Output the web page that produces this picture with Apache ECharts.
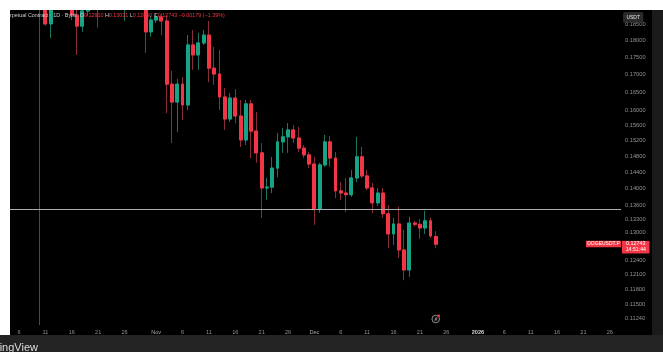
<!DOCTYPE html>
<html>
<head>
<meta charset="utf-8">
<script src="https://cdn.jsdelivr.net/npm/echarts@6.0.0/dist/echarts.min.js"></script>
<style>
html,body{margin:0;padding:0;background:#fff;overflow:hidden;}
#chart{width:663px;height:361px;}
</style>
</head>
<body>
<div id="chart"></div>
<script>
// ---- data (daily candles, DOGEUSDT.P, Bybit) ----
const dates = [
 '2025-10-10','2025-10-11','2025-10-12','2025-10-13','2025-10-14','2025-10-15','2025-10-16','2025-10-17','2025-10-18','2025-10-19',
 '2025-10-20','2025-10-21','2025-10-22','2025-10-23','2025-10-24','2025-10-25','2025-10-26','2025-10-27','2025-10-28','2025-10-29',
 '2025-10-30','2025-10-31','2025-11-01','2025-11-02','2025-11-03','2025-11-04','2025-11-05','2025-11-06','2025-11-07','2025-11-08',
 '2025-11-09','2025-11-10','2025-11-11','2025-11-12','2025-11-13','2025-11-14','2025-11-15','2025-11-16','2025-11-17','2025-11-18',
 '2025-11-19','2025-11-20','2025-11-21','2025-11-22','2025-11-23','2025-11-24','2025-11-25','2025-11-26','2025-11-27','2025-11-28',
 '2025-11-29','2025-11-30','2025-12-01','2025-12-02','2025-12-03','2025-12-04','2025-12-05','2025-12-06','2025-12-07','2025-12-08',
 '2025-12-09','2025-12-10','2025-12-11','2025-12-12','2025-12-13','2025-12-14','2025-12-15','2025-12-16','2025-12-17','2025-12-18',
 '2025-12-19','2025-12-20','2025-12-21','2025-12-22','2025-12-23','2025-12-24'
];
const openP = [
 0.2497,0.1960,0.1852,0.2070,0.2140,0.2080,0.2000,0.1880,0.1845,0.1893,
 0.1950,0.1990,0.1950,0.1925,0.1975,0.1990,0.1985,0.2000,0.2020,0.1940,
 0.1925,0.1827,0.1864,0.1874,0.1861,0.1672,0.1622,0.1672,0.1614,0.1787,
 0.1757,0.1793,0.1817,0.1718,0.1701,0.1636,0.1576,0.1633,0.1584,0.1521,
 0.1617,0.1544,0.1488,0.1402,0.1404,0.1450,0.1516,0.1529,0.1547,0.1526,
 0.1500,0.1483,0.1460,0.1353,0.1458,0.1516,0.1475,0.1395,0.1390,0.1386,
 0.1426,0.1478,0.1431,0.1402,0.1367,0.1390,0.1342,0.1297,0.1319,0.1262,
 0.1220,0.1321,0.1318,0.1310,0.1326,0.12910
];
const highP = [
 0.2530,0.1990,0.2110,0.2180,0.2170,0.2130,0.2040,0.1930,0.1930,0.1990,
 0.2030,0.2060,0.1980,0.2000,0.2040,0.2020,0.2030,0.2090,0.2060,0.1990,
 0.1960,0.1878,0.1886,0.1885,0.1880,0.1710,0.1687,0.1692,0.1817,0.1833,
 0.1824,0.1833,0.1861,0.1781,0.1772,0.1661,0.1647,0.1658,0.1628,0.1628,
 0.1628,0.1595,0.1513,0.1426,0.1478,0.1539,0.1552,0.1565,0.1560,0.1555,
 0.1508,0.1490,0.1478,0.1463,0.1534,0.1531,0.1490,0.1416,0.1426,0.1446,
 0.1529,0.1503,0.1446,0.1414,0.1402,0.1402,0.1362,0.1333,0.1358,0.1306,
 0.1335,0.1326,0.1330,0.1349,0.1333,0.13031
];
const lowP = [
 0.0950,0.1846,0.1808,0.2010,0.1960,0.1970,0.1864,0.1757,0.1827,0.1877,
 0.1920,0.1840,0.1905,0.1910,0.1945,0.1960,0.1862,0.1970,0.1920,0.1910,
 0.1763,0.1812,0.1855,0.1817,0.1592,0.1513,0.1542,0.1573,0.1600,0.1713,
 0.1713,0.1787,0.1678,0.1670,0.1600,0.1547,0.1568,0.1565,0.1503,0.1508,
 0.1475,0.1463,0.1333,0.1374,0.1390,0.1428,0.1488,0.1488,0.1513,0.1490,
 0.1475,0.1450,0.1317,0.1344,0.1453,0.1453,0.1378,0.1374,0.1346,0.1381,
 0.1416,0.1426,0.1397,0.1344,0.1360,0.1333,0.1266,0.1273,0.1245,0.1199,
 0.1206,0.1313,0.1286,0.1297,0.1288,0.12660
];
const closeP = [
 0.1960,0.1852,0.2070,0.2140,0.2080,0.2000,0.1880,0.1845,0.1893,0.1950,
 0.1990,0.1950,0.1925,0.1975,0.1990,0.1985,0.2000,0.2020,0.1940,0.1925,
 0.1827,0.1864,0.1874,0.1861,0.1672,0.1622,0.1672,0.1614,0.1787,0.1757,
 0.1793,0.1817,0.1718,0.1701,0.1636,0.1576,0.1633,0.1584,0.1521,0.1617,
 0.1544,0.1488,0.1402,0.1404,0.1450,0.1516,0.1529,0.1547,0.1526,0.1500,
 0.1483,0.1460,0.1353,0.1458,0.1516,0.1475,0.1395,0.1390,0.1386,0.1426,
 0.1478,0.1431,0.1402,0.1367,0.1390,0.1342,0.1297,0.1319,0.1262,0.1220,
 0.1321,0.1318,0.1310,0.1326,0.12922,0.12743
];
const xTickDates = [
 '2025-10-06','2025-10-11','2025-10-16','2025-10-21','2025-10-26','2025-11-01','2025-11-06','2025-11-11',
 '2025-11-16','2025-11-21','2025-11-26','2025-12-01','2025-12-06','2025-12-11','2025-12-16','2025-12-21',
 '2025-12-26','2026-01-01','2026-01-06','2026-01-11','2026-01-16','2026-01-21','2026-01-26'
];
const xTickLabels = ['6','11','16','21','26','Nov','6','11','16','21','26','Dec','6','11','16','21','26','2026','6','11','16','21','26'];
const yTickLabels = [0.185,0.18,0.175,0.17,0.165,0.16,0.156,0.152,0.148,0.144,0.14,0.136,0.133,0.13,0.124,0.121,0.118,0.115,0.1124];
const levelLine = 0.1352;
const headerTitle = 'rpetual Contract · 1D · Bybit';
const symbolName = 'DOGEUSDT.P';
const countdown = '14:51:44';
const quoteUnit = 'USDT';

// visible window (log price scale, days since 2025-10-06)
const viewDays = [-1.706, 114.12];
const viewPrice = [0.11112, 0.18961];

// ---- styles ----
const UP = '#16a386', DN = '#f23645';
const WICK_UP = '#1b7462', WICK_DN = '#8a2f3a';
const AXIS_TXT = '#8f9299';
const FONT = 'Liberation Sans, Arial, sans-serif';

const DAY0 = Date.parse('2025-10-06T00:00:00Z');
const dayNum = s => (Date.parse(s + 'T00:00:00Z') - DAY0) / 864e5;
const lnF = v => Math.log(Math.max(v, viewPrice[0]));   // floor at the bottom of the view

const xs = dates.map(dayNum);
const wickData = xs.map((x, i) => [x, lnF(openP[i]), lnF(closeP[i]), lnF(lowP[i]), lnF(highP[i])]);
const bodyData = xs.map((x, i) => [x, lnF(openP[i]), lnF(closeP[i]),
  lnF(Math.min(openP[i], closeP[i])), lnF(Math.max(openP[i], closeP[i]))]);
const xTickVals = xTickDates.map(dayNum);

const chart = echarts.init(document.getElementById('chart'), null, {renderer: 'canvas'});
chart.setOption({
  animation: false,
  backgroundColor: '#000000',
  grid: {left: 10, right: 42, top: 10, bottom: 36, containLabel: false, outerBoundsMode: 'none'},
  xAxis: {
    type: 'value', min: viewDays[0], max: viewDays[1],
    splitLine: {show: false}, axisLine: {show: false}, axisTick: {show: false},
    axisLabel: {
      customValues: xTickVals, margin: 4, color: AXIS_TXT, fontSize: 5.6, fontFamily: FONT,
      formatter: v => {
        const i = xTickVals.findIndex(t => Math.abs(t - v) < 1e-6);
        const s = i >= 0 ? xTickLabels[i] : '';
        if (/^\d{4}$/.test(s)) return '{y|' + s + '}';
        if (/^[A-Za-z]/.test(s)) return '{m|' + s + '}';
        return s;
      },
      rich: {
        m: {color: '#a9acb3', fontSize: 5.6, fontFamily: FONT},
        y: {color: '#d1d4dc', fontSize: 5.6, fontWeight: 'bold', fontFamily: FONT}
      }
    }
  },
  yAxis: {
    type: 'value', position: 'right', scale: true,
    min: Math.log(viewPrice[0]), max: Math.log(viewPrice[1]),
    splitLine: {show: false}, axisLine: {show: false}, axisTick: {show: false},
    axisLabel: {
      customValues: yTickLabels.map(Math.log), margin: 4, align: 'left',
      color: AXIS_TXT, fontSize: 5.7, fontFamily: FONT,
      formatter: v => Math.exp(v).toFixed(5)
    }
  },
  series: [
    {
      type: 'candlestick', name: 'wick', data: wickData, barWidth: 3.4, clip: false, silent: true, z: 2,
      itemStyle: {color: WICK_UP, color0: WICK_DN, borderColor: WICK_UP, borderColor0: WICK_DN, borderWidth: 1}
    },
    {
      type: 'candlestick', name: 'body', data: bodyData, barWidth: 3.4, clip: false, silent: true, z: 3,
      itemStyle: {color: UP, color0: DN, borderColor: UP, borderColor0: DN, borderWidth: 1},
      markLine: {
        silent: true, symbol: 'none', animation: false,
        label: {show: false},
        lineStyle: {color: '#a9acb3', width: 1, type: 'solid'},
        data: [{yAxis: Math.log(levelLine)}]
      }
    }
  ]
});

// ---- overlays positioned through the axes ----
const n = closeP.length - 1;
const py = chart.convertToPixel({yAxisIndex: 0}, Math.log(closeP[n]));
const ex = chart.convertToPixel({xAxisIndex: 0}, xs[n]);
const chg = closeP[n] - closeP[n - 1];
const pct = chg / closeP[n - 1] * 100;
const sg = v => (v < 0 ? '\u2212' : '+');
const f5 = v => v.toFixed(5);
const header = '{t|' + headerTitle + '}  {k|O}{v|' + f5(openP[n]) + '} {k|H}{v|' + f5(highP[n]) +
  '} {k|L}{v|' + f5(lowP[n]) + '} {k|C}{v|' + f5(closeP[n]) + '} {v|' + sg(chg) + Math.abs(chg).toFixed(5) +
  ' (' + sg(pct) + Math.abs(pct).toFixed(2) + '%)}';

function txt(id, x, y, text, size, fill, align, extra) {
  return Object.assign({
    id, type: 'text', x, y, z: 120,
    style: {text, fill, fontSize: size, fontFamily: FONT, align: align, textAlign: align,
            verticalAlign: 'middle', textVerticalAlign: 'middle'}
  }, extra || {});
}

chart.setOption({
  graphic: {elements: [
    {id: 'wTop', type: 'rect', z: 100, shape: {x: 0, y: 0, width: 663, height: 10}, style: {fill: '#ffffff'}},
    {id: 'wLeft', type: 'rect', z: 100, shape: {x: 0, y: 0, width: 10, height: 335}, style: {fill: '#ffffff'}},
    {id: 'gRight', type: 'rect', z: 100, shape: {x: 652, y: 10, width: 11, height: 325}, style: {fill: '#1b1b1b'}},
    {id: 'gBottom', type: 'rect', z: 100, shape: {x: 0, y: 335, width: 663, height: 17}, style: {fill: '#232323'}},
    Object.assign(txt('brand', 38, 348, 'TradingView', 11, '#dedede', 'right'), {z: 101}),
    {id: 'wBottom', type: 'rect', z: 102, shape: {x: 0, y: 352, width: 663, height: 9}, style: {fill: '#ffffff'}},
    {id: 'hdr', type: 'text', x: 10, y: 16, z: 110,
      style: {text: header, fontSize: 5.4, fontFamily: FONT, fill: '#c8cad0',
        verticalAlign: 'middle', textVerticalAlign: 'middle',
        rich: {
          t: {fill: '#c8cad0', fontSize: 5.4, fontFamily: FONT},
          k: {fill: '#c8cad0', fontSize: 5.4, fontFamily: FONT},
          v: {fill: DN, fontSize: 5.4, fontFamily: FONT}
        }}},
    {id: 'unitBox', type: 'rect', z: 110, shape: {x: 623.5, y: 12.5, width: 19.5, height: 10, r: 1},
      style: {fill: '#2a2a2a', stroke: '#3a3a3a', lineWidth: 0.5}},
    txt('unitTxt', 633.2, 17.6, quoteUnit, 5, '#e6e6e6', 'center'),
    {id: 'symTag', type: 'rect', z: 110, shape: {x: 586, y: py - 3.4, width: 35, height: 6.3}, style: {fill: DN}},
    txt('symTxt', 603.5, py - 0.2, symbolName, 5, '#ffffff', 'center'),
    {id: 'pxTag', type: 'rect', z: 110, shape: {x: 622, y: py - 3.4, width: 27.5, height: 12.6}, style: {fill: DN}},
    txt('pxTxt', 635.8, py - 0.4, f5(closeP[n]), 5.4, '#ffffff', 'center'),
    txt('cdTxt', 635.8, py + 5.6, countdown, 5.2, '#ffffff', 'center'),
    {id: 'evCircle', type: 'circle', z: 110, shape: {cx: ex, cy: 319, r: 3.8},
      style: {fill: '#0a0a0a', stroke: '#8c8c8c', lineWidth: 1}},
    {id: 'evMark', type: 'polyline', z: 111, shape: {points: [[ex - 1, 320.5], [ex + 0.3, 317.5], [ex + 0.3, 320.5], [ex + 1.3, 317.8]]},
      style: {stroke: '#9a9a9a', lineWidth: 0.7, fill: null}},
    {id: 'evDot', type: 'circle', z: 112, shape: {cx: ex + 3, cy: 315.8, r: 1.3}, style: {fill: DN}}
  ]}
});
</script>
</body>
</html>
